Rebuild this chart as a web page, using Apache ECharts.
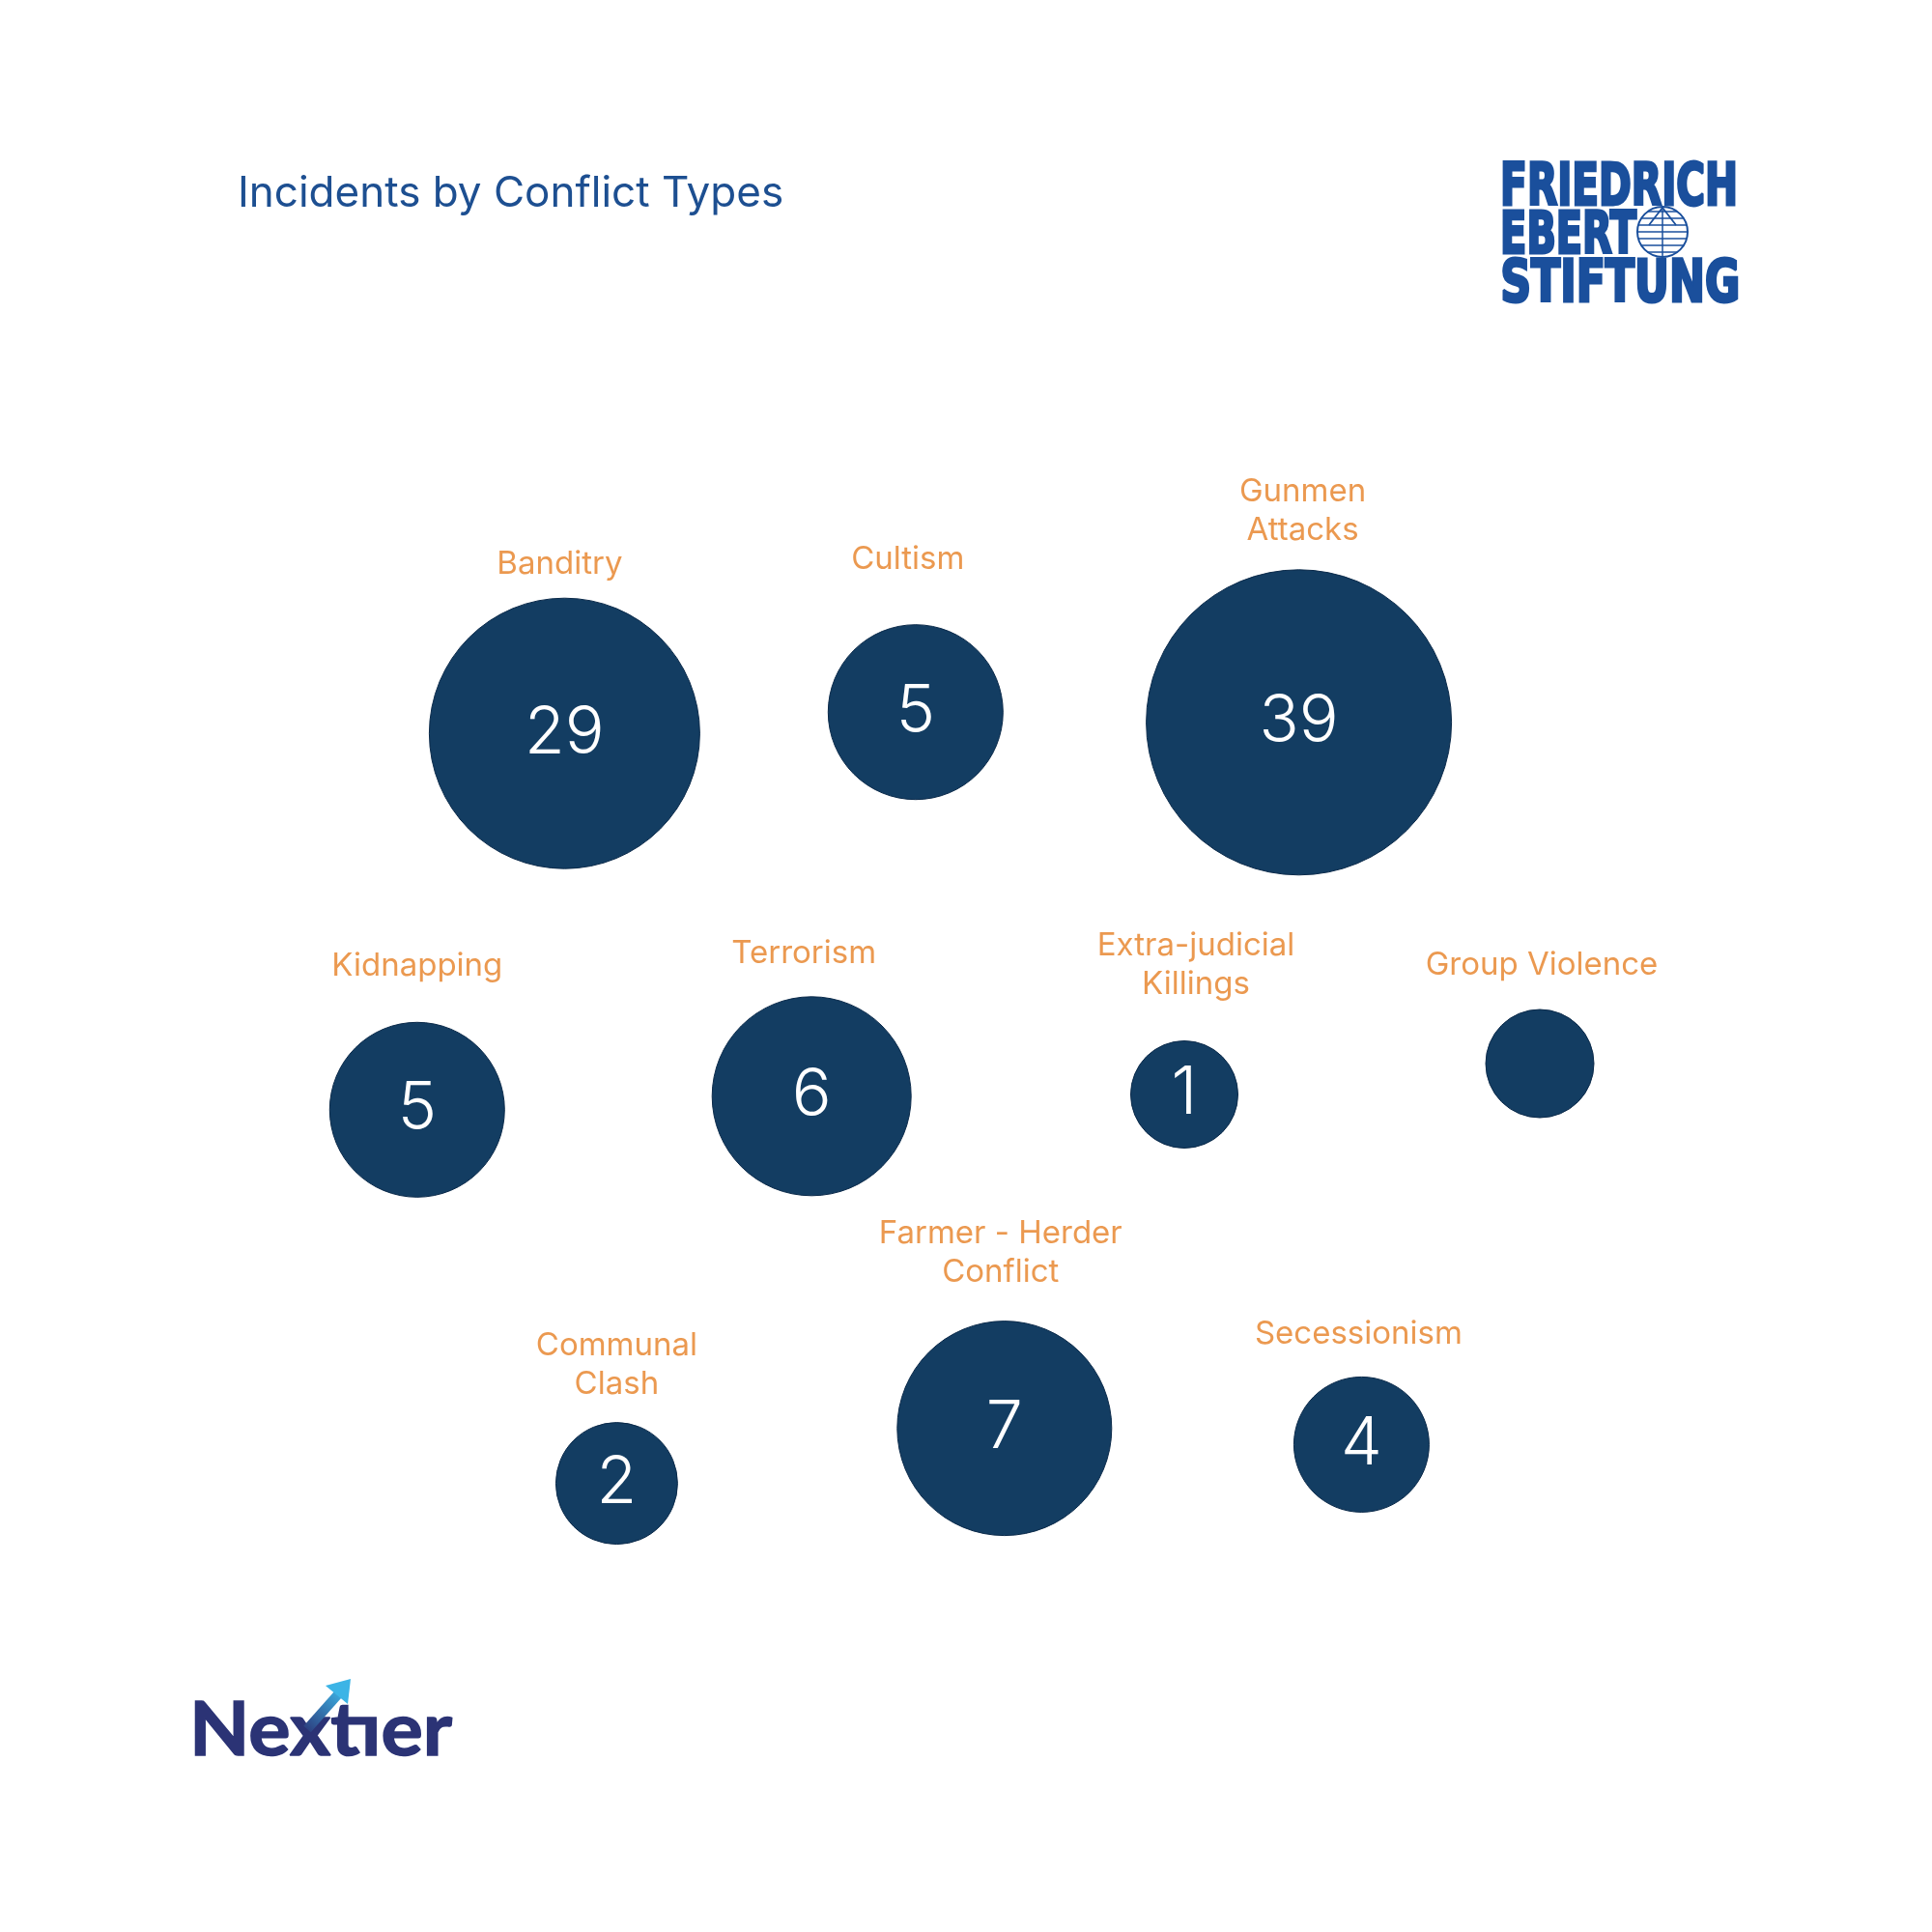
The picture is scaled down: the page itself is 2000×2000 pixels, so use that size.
<!DOCTYPE html>
<html>
<head>
<meta charset="utf-8">
<script src="https://cdn.jsdelivr.net/npm/echarts@6/dist/echarts.min.js"></script>
<style>
  html, body { margin: 0; padding: 0; background: #ffffff; }
  #chart { width: 2000px; height: 2000px; }
</style>
</head>
<body>
<div id="chart"></div>
<script>
// ---- data ----
const categories = ['Banditry', 'Cultism', 'Gunmen\nAttacks', 'Kidnapping', 'Terrorism',
  'Extra-judicial\nKillings', 'Group Violence', 'Communal\nClash', 'Farmer - Herder\nConflict', 'Secessionism'];
const incidents = [29, 5, 39, 5, 6, 1, null, 2, 7, 4]; // Group Violence: no value printed
// bubble layout (percent of canvas)
const layoutX = [29.22, 47.39, 67.23, 21.59, 42.01, 61.3, 79.7, 31.92, 51.99, 70.47];
const layoutY = [37.96, 36.86, 37.39, 57.44, 56.74, 56.65, 55.05, 76.78, 73.93, 74.77];
const titleText = 'Incidents by Conflict Types';

// ---- styling ----
const BUBBLE = '#133D62';
const ORANGE = '#E67F24';
const FES_BLUE = '#1A4F9C';
const NEXTIER = '#2B3375';
const nameGap = [15, 48, 21, 38, 25, 38, 26, 20, 31, 24];
const nameShiftX = [-5, -8, 4, 0, -8, 12, 2, 0, -4, -3];

// bubble size scale (value -> diameter, px)
const sizeDomain = [1, 2, 4, 5, 6, 7, 29, 39];
const sizeRange = [111, 126, 140, 181, 206, 222, 280, 316];
function sizeScale(v) {
  if (v == null) return 112;
  if (v <= sizeDomain[0]) return sizeRange[0];
  for (let i = 1; i < sizeDomain.length; i++) {
    if (v <= sizeDomain[i]) {
      const t = (v - sizeDomain[i - 1]) / (sizeDomain[i] - sizeDomain[i - 1]);
      return sizeRange[i - 1] + t * (sizeRange[i] - sizeRange[i - 1]);
    }
  }
  return sizeRange[sizeRange.length - 1];
}

const points = categories.map((c, i) => [layoutX[i], layoutY[i], incidents[i], c]);

// ---- text measuring helper for logos ----
const mctx = document.createElement('canvas').getContext('2d');
function measure(text, font) { mctx.font = font; return mctx.measureText(text).width; }

const FES_FONT_FAMILY = '"Liberation Sans Narrow", "DejaVu Sans Condensed", "DejaVu Sans", sans-serif';
const FES_SIZE = 61;
const FES_FONT = 'bold ' + FES_SIZE + 'px ' + FES_FONT_FAMILY;
function fesWord(text, left, capCenterY, targetWidth) {
  const w = measure(text, FES_FONT);
  return {
    type: 'text', x: left, y: capCenterY, scaleX: (targetWidth - 3) / w, silent: true,
    style: { text: text, x: 1.5, y: 3, font: FES_FONT, fill: FES_BLUE, stroke: FES_BLUE, lineWidth: 3,
      textVerticalAlign: 'middle', textAlign: 'left' }
  };
}

// globe
const gcx = 1721, gcy = 240, gr = 26;
const globe = [];
globe.push({ type: 'circle', shape: { cx: gcx, cy: gcy, r: gr }, style: { fill: '#fff', stroke: FES_BLUE, lineWidth: 2 }, silent: true });
for (let k = -3; k <= 3; k++) {
  const dy = k * 7;
  if (Math.abs(dy) >= gr) continue;
  const hw = Math.sqrt(gr * gr - dy * dy);
  globe.push({ type: 'line', shape: { x1: gcx - hw, y1: gcy + dy, x2: gcx + hw, y2: gcy + dy }, style: { stroke: FES_BLUE, lineWidth: 1.5 }, silent: true });
}
globe.push({ type: 'line', shape: { x1: gcx, y1: gcy - gr, x2: gcx, y2: gcy + gr }, style: { stroke: FES_BLUE, lineWidth: 1.5 }, silent: true });
globe.push({ type: 'polyline', shape: { points: [[gcx - 14, gcy - 7], [gcx, gcy - gr + 1], [gcx + 14, gcy - 7]] }, style: { stroke: FES_BLUE, lineWidth: 1.8, fill: null }, silent: true });

// Nextier logo
const NX_FONT = 'bold 77px Lato, "Open Sans", sans-serif';
const nxText = 'Nextıer';
const nxW = measure(nxText, NX_FONT);
const nextier = [
  { type: 'text', x: 196, y: 1790, scaleX: 272 / nxW, silent: true,
    style: { text: nxText, x: 0, y: 2, font: NX_FONT, fill: NEXTIER, stroke: NEXTIER, lineWidth: 1.5, textVerticalAlign: 'middle', textAlign: 'left' } },
  { type: 'line', shape: { x1: 318, y1: 1790, x2: 350, y2: 1754 }, silent: true,
    style: { lineWidth: 10, stroke: new echarts.graphic.LinearGradient(0, 1, 1, 0, [{ offset: 0, color: NEXTIER }, { offset: 1, color: '#3CB4E6' }]) } },
  { type: 'polygon', shape: { points: [[337, 1745], [363, 1738], [360, 1764]] }, silent: true, style: { fill: '#3CB4E6' } }
];

const chart = echarts.init(document.getElementById('chart'), null, { renderer: 'canvas' });
chart.setOption({
  backgroundColor: '#ffffff',
  animation: false,
  title: {
    text: titleText, left: 241, top: 174,
    textStyle: { fontFamily: 'Inter', fontWeight: 'normal', fontSize: 44, color: '#1D4F91' }
  },
  grid: { left: 0, right: 0, top: 0, bottom: 0 },
  xAxis: { type: 'value', min: 0, max: 100, show: false },
  yAxis: { type: 'value', min: 0, max: 100, inverse: true, show: false },
  series: [
    {
      type: 'scatter', silent: true, z: 2,
      data: points,
      symbolSize: d => sizeScale(d[2]),
      itemStyle: { color: BUBBLE, borderColor: '#0B2A4A', borderWidth: 1, opacity: 1 },
      label: {
        show: true, position: 'inside',
        formatter: p => (p.value[2] == null ? '' : String(p.value[2])),
        color: '#ffffff', fontFamily: 'Inter', fontWeight: 300, fontSize: 68
      }
    },
    {
      type: 'scatter', silent: true, z: 3,
      data: points.map((p, i) => ({
        value: p,
        label: { distance: nameGap[i], offset: [nameShiftX[i], 0] }
      })),
      symbolSize: d => sizeScale(d[2]),
      itemStyle: { color: 'rgba(0,0,0,0)' },
      label: {
        show: true, position: 'top',
        formatter: p => p.value[3],
        color: ORANGE, fontFamily: 'Inter', fontSize: 33, lineHeight: 40, align: 'center'
      }
    }
  ],
  graphic: [
    fesWord('FRIEDRICH', 1552, 193, 249),
    fesWord('EBERT', 1552, 243, 144),
    fesWord('STIFTUNG', 1552, 293, 251),
    ...globe,
    ...nextier
  ]
});
</script>
</body>
</html>
